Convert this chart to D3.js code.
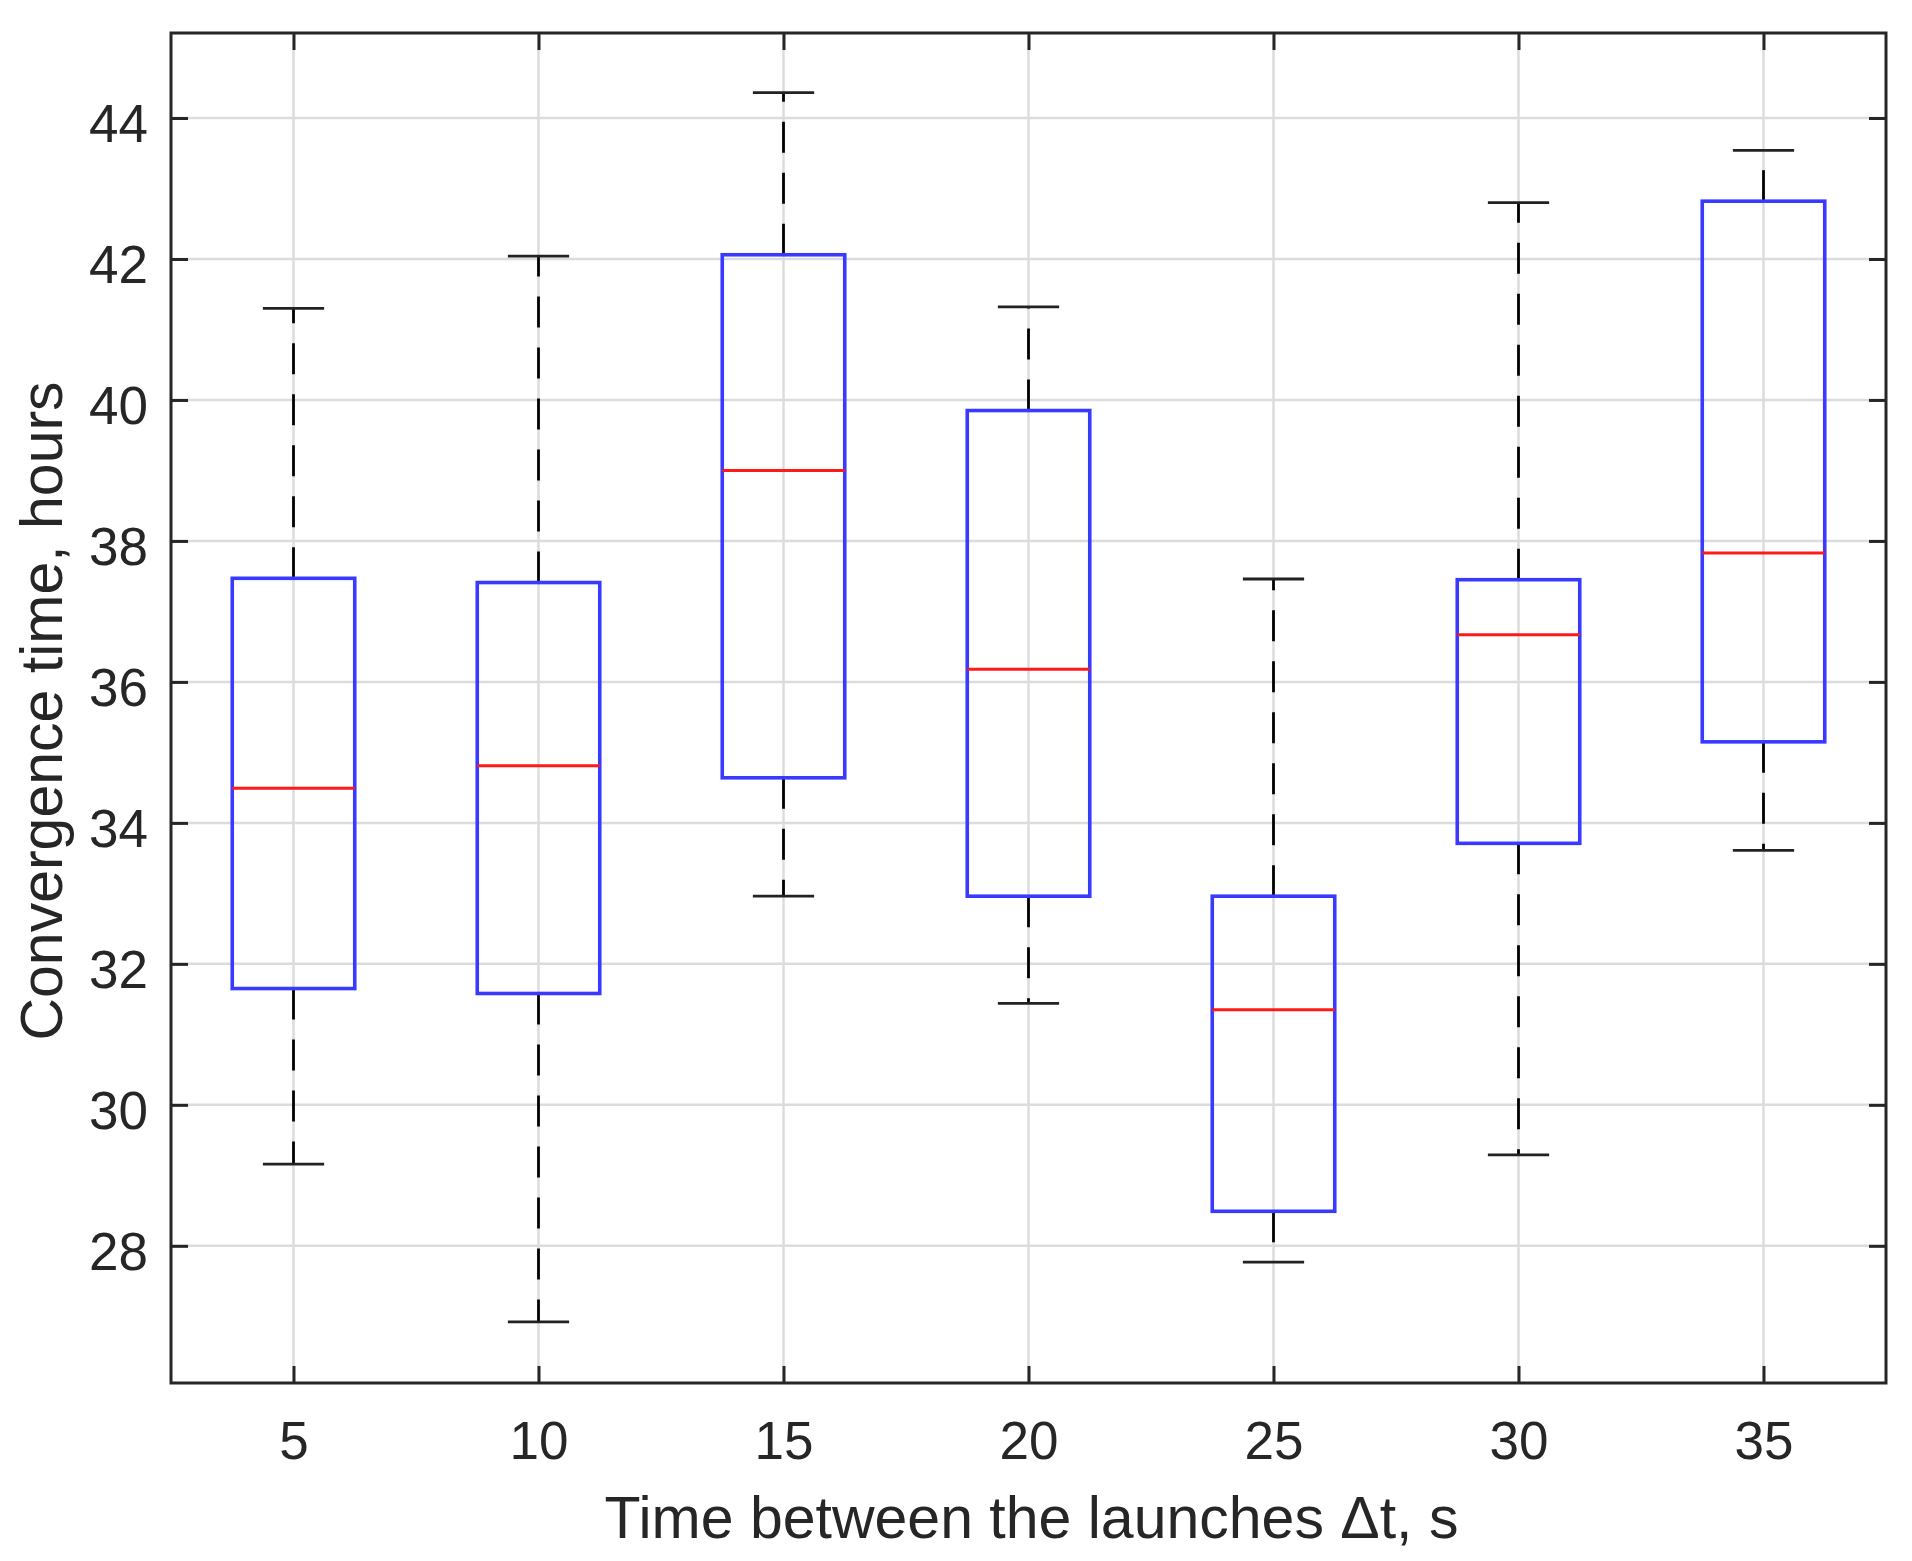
<!DOCTYPE html>
<html>
<head>
<meta charset="utf-8">
<script src="https://cdn.jsdelivr.net/npm/d3@7"></script>
<style>
  html, body { margin: 0; padding: 0; background: #fff; }
  svg { display: block; }
</style>
</head>
<body>
<script>
// ---- Data ----
const categories  = [5, 10, 15, 20, 25, 30, 35];
const whiskerHigh = [41.30, 42.04, 44.36, 41.32, 37.46, 42.80, 43.54];
const q3Values    = [37.47, 37.41, 42.06, 39.85, 32.96, 37.45, 42.82];
const medians     = [34.49, 34.81, 39.00, 36.18, 31.35, 36.67, 37.83];
const q1Values    = [31.65, 31.58, 34.64, 32.96, 28.49, 33.71, 35.15];
const whiskerLow  = [29.16, 26.92, 32.96, 31.44, 27.77, 29.29, 33.61];
const yTickValues = [28, 30, 32, 34, 36, 38, 40, 42, 44];
const xTickValues = [5, 10, 15, 20, 25, 30, 35];
const xLabel = "Time between the launches \u0394t, s";
const yLabel = "Convergence time, hours";

// ---- Layout ----
const W = 1912, H = 1561;
const plotL = 171, plotR = 1886, plotT = 33, plotB = 1383;
const font = "'Liberation Sans', Arial, Helvetica, sans-serif";
const textColor = "#262626";

const svg = d3.select("body").append("svg")
  .attr("width", W).attr("height", H)
  .attr("viewBox", `0 0 ${W} ${H}`);

svg.append("rect").attr("width", W).attr("height", H).attr("fill", "#fff");

const x = d3.scaleLinear().domain([2.5, 37.5]).range([plotL, plotR]);
const y = d3.scaleLinear().domain([26.054, 45.206]).range([plotB, plotT]);

const boxHalf = 1.25;   // half box width in x units
const capHalf = 0.625;  // half cap width in x units

// ---- Grid ----
const grid = svg.append("g");
grid.selectAll("line.hg").data(yTickValues).enter().append("line")
  .attr("x1", plotL).attr("x2", plotR)
  .attr("y1", d => y(d)).attr("y2", d => y(d))
  .attr("stroke", "#dcdcdc").attr("stroke-width", 2.5);
grid.selectAll("line.vg").data(xTickValues).enter().append("line")
  .attr("y1", plotT).attr("y2", plotB)
  .attr("x1", d => x(d)).attr("x2", d => x(d))
  .attr("stroke", "#dcdcdc").attr("stroke-width", 2.5);

// ---- Box data ----
const boxes = categories.map((c, i) => ({
  c, hi: whiskerHigh[i], q3: q3Values[i], med: medians[i], q1: q1Values[i], lo: whiskerLow[i]
}));

const g = svg.append("g");

// whiskers (dashed)
g.selectAll("line.wu").data(boxes).enter().append("line")
  .attr("x1", d => x(d.c)).attr("x2", d => x(d.c))
  .attr("y1", d => y(d.q3)).attr("y2", d => y(d.hi))
  .attr("stroke", "#000").attr("stroke-width", 2.8)
  .attr("stroke-dasharray", "31,20");
g.selectAll("line.wl").data(boxes).enter().append("line")
  .attr("x1", d => x(d.c)).attr("x2", d => x(d.c))
  .attr("y1", d => y(d.q1)).attr("y2", d => y(d.lo))
  .attr("stroke", "#000").attr("stroke-width", 2.8)
  .attr("stroke-dasharray", "31,20");

// caps
g.selectAll("line.cu").data(boxes).enter().append("line")
  .attr("x1", d => x(d.c - capHalf)).attr("x2", d => x(d.c + capHalf))
  .attr("y1", d => y(d.hi)).attr("y2", d => y(d.hi))
  .attr("stroke", "#222").attr("stroke-width", 2.8);
g.selectAll("line.cl").data(boxes).enter().append("line")
  .attr("x1", d => x(d.c - capHalf)).attr("x2", d => x(d.c + capHalf))
  .attr("y1", d => y(d.lo)).attr("y2", d => y(d.lo))
  .attr("stroke", "#222").attr("stroke-width", 2.8);

// boxes
g.selectAll("rect.box").data(boxes).enter().append("rect")
  .attr("x", d => x(d.c - boxHalf))
  .attr("width", d => x(d.c + boxHalf) - x(d.c - boxHalf))
  .attr("y", d => y(d.q3))
  .attr("height", d => y(d.q1) - y(d.q3))
  .attr("fill", "none")
  .attr("stroke", "#3a3aff").attr("stroke-width", 3.6);

// medians
g.selectAll("line.med").data(boxes).enter().append("line")
  .attr("x1", d => x(d.c - boxHalf)).attr("x2", d => x(d.c + boxHalf))
  .attr("y1", d => y(d.med)).attr("y2", d => y(d.med))
  .attr("stroke", "#ff1a1a").attr("stroke-width", 3);

// ---- Axes (ticks inward on all four sides) ----
const tickLen = 17;
const axisColor = "#262626";

const yAxisL = d3.axisLeft(y).tickValues(yTickValues).tickSize(-tickLen).tickPadding(23).tickFormat(d3.format("d"));
const yAxisR = d3.axisRight(y).tickValues(yTickValues).tickSize(-tickLen).tickFormat("");
const xAxisB = d3.axisBottom(x).tickValues(xTickValues).tickSize(-tickLen).tickPadding(38).tickFormat(d3.format("d"));
const xAxisT = d3.axisTop(x).tickValues(xTickValues).tickSize(-tickLen).tickFormat("");

function styleAxis(sel) {
  sel.select(".domain").remove();
  sel.selectAll(".tick line").attr("stroke", axisColor).attr("stroke-width", 3);
  sel.selectAll(".tick text").attr("fill", textColor)
    .style("font-family", font).style("font-size", "53px");
}

const gl = svg.append("g").attr("transform", `translate(${plotL},0)`).call(yAxisL).call(styleAxis);
gl.selectAll(".tick text").attr("dy", "0.45em");
svg.append("g").attr("transform", `translate(${plotR},0)`).call(yAxisR).call(styleAxis);
const gb = svg.append("g").attr("transform", `translate(0,${plotB})`).call(xAxisB).call(styleAxis);
gb.selectAll(".tick text").attr("dy", "0.71em");
svg.append("g").attr("transform", `translate(0,${plotT})`).call(xAxisT).call(styleAxis);

// frame
svg.append("rect")
  .attr("x", plotL).attr("y", plotT)
  .attr("width", plotR - plotL).attr("height", plotB - plotT)
  .attr("fill", "none").attr("stroke", axisColor).attr("stroke-width", 3);

// ---- Axis labels ----
svg.append("text")
  .attr("x", (plotL + plotR) / 2 + 3).attr("y", 1538)
  .attr("text-anchor", "middle")
  .attr("fill", textColor)
  .style("font-family", font).style("font-size", "59px")
  .text(xLabel);

svg.append("text")
  .attr("transform", `translate(62,${(plotT + plotB) / 2 + 3}) rotate(-90)`)
  .attr("text-anchor", "middle")
  .attr("fill", textColor)
  .style("font-family", font).style("font-size", "59px")
  .text(yLabel);
</script>
</body>
</html>
